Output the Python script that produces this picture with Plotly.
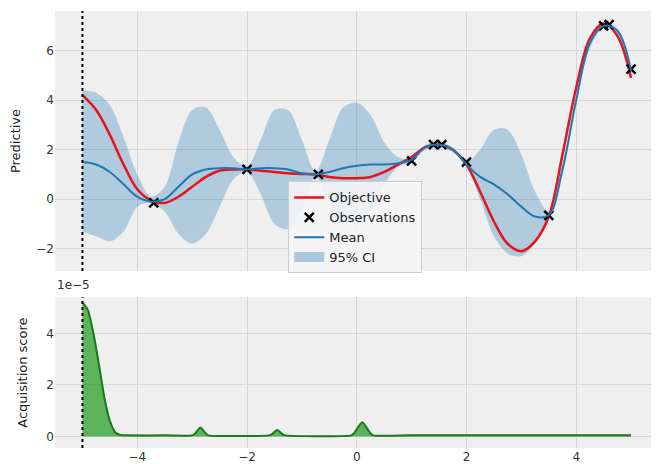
import plotly.graph_objects as go
from plotly.subplots import make_subplots

xs = [-5,-4.75,-4.5,-4.25,-4,-3.75,-3.5,-3.25,-3,-2.75,-2.5,-2.25,-2,-1.75,-1.5,-1.25,-1,-0.75,-0.5,-0.25,0,0.25,0.5,0.75,1,1.25,1.5,1.75,2,2.25,2.5,2.75,3,3.25,3.5,3.75,4,4.25,4.5,4.75,5]
objective = [4.2,3.6,2.6,1.4,0.4,-0.05,-0.15,0.1,0.5,0.9,1.15,1.2,1.2,1.15,1.1,1.05,1.02,1.0,0.9,0.85,0.85,0.9,1.1,1.4,1.7,2.1,2.2,2.0,1.4,0.3,-0.9,-1.8,-2.1,-1.7,-0.7,1.8,4.5,6.5,7.1,6.6,4.9]
mean = [1.5,1.4,1.1,0.6,0.1,-0.1,0.0,0.5,1.0,1.2,1.25,1.25,1.2,1.25,1.25,1.2,1.05,1.0,1.1,1.25,1.35,1.4,1.4,1.45,1.6,2.1,2.2,2.0,1.4,0.9,0.6,0.2,-0.3,-0.7,-0.65,1.2,4.0,6.3,7.0,6.8,5.2]
upper = [4.4,4.3,3.8,2.5,1.0,0.1,0.5,2.3,3.6,3.7,2.8,1.7,1.3,2.4,3.6,3.6,2.4,1.1,2.4,3.7,3.9,3.4,2.3,1.7,1.65,2.2,2.3,2.1,1.5,2.0,2.8,2.8,1.8,0.3,-0.5,1.4,4.2,6.5,7.15,6.9,5.3]
lower = [-1.3,-1.5,-1.7,-1.3,-0.3,-0.15,-0.5,-1.4,-1.8,-1.4,-0.3,0.8,1.1,0.2,-1.0,-1.2,-0.4,0.9,-0.1,-0.9,-0.9,-0.5,0.6,1.3,1.5,2.0,2.1,1.9,1.3,0.0,-1.5,-2.2,-2.3,-1.8,-0.8,1.0,3.8,6.1,6.9,6.7,5.1]
obs_x = [-3.7,-2,-0.7,1,1.4,1.55,2,3.5,4.5,4.6,5]
obs_y = [-0.15,1.2,1.0,1.55,2.2,2.2,1.5,-0.65,7.0,7.05,5.25]
acq_x = [-5,-4.9,-4.8,-4.7,-4.6,-4.5,-4.4,-4.3,-4.2,-3.5,-3.0,-2.95,-2.85,-2.75,-2.7,-1.6,-1.55,-1.45,-1.35,-1.3,-0.1,-0.05,0.1,0.25,0.3,1,2,3,4,5]
acq = [5.2,4.9,4.0,2.8,1.5,0.6,0.15,0.05,0.04,0.04,0.04,0.1,0.35,0.1,0.04,0.04,0.08,0.25,0.08,0.04,0.04,0.12,0.55,0.12,0.04,0.04,0.04,0.04,0.04,0.04]

fig = make_subplots(rows=2, cols=1, shared_xaxes=True, vertical_spacing=0.06)
fig.add_trace(go.Scatter(x=xs, y=upper, mode="lines", line=dict(width=0, shape="spline", smoothing=0.9), showlegend=False, hoverinfo="skip"), 1, 1)
fig.add_trace(go.Scatter(x=xs, y=lower, mode="lines", line=dict(width=0, shape="spline", smoothing=0.9), fill="tonexty", fillcolor="rgba(31,119,180,0.3)", showlegend=False), 1, 1)
fig.add_trace(go.Scatter(x=xs, y=objective, mode="lines", line=dict(color="#e8121b", width=2.5, shape="spline"), name="Objective"), 1, 1)
fig.add_trace(go.Scatter(x=obs_x, y=obs_y, mode="markers", marker=dict(symbol="x-thin", size=9, line=dict(width=2.5, color="black"), color="black"), name="Observations"), 1, 1)
fig.add_trace(go.Scatter(x=xs, y=mean, mode="lines", line=dict(color="#1f77b4", width=2, shape="spline"), name="Mean"), 1, 1)
fig.add_trace(go.Scatter(x=[None], y=[None], mode="lines", line=dict(width=10, color="rgba(31,119,180,0.35)"), name="95% CI"), 1, 1)
fig.add_trace(go.Scatter(x=acq_x, y=acq, mode="lines", line=dict(color="#1a7a1a", width=2, shape="spline", smoothing=0.6), fill="tozeroy", fillcolor="rgba(44,160,44,0.75)", showlegend=False), 2, 1)

for r in (1, 2):
    fig.add_vline(x=-5, line=dict(color="black", dash="dot", width=2), row=r, col=1)

ax = dict(showgrid=True, gridcolor="#d6d6d6", zeroline=False, showline=False, ticks="", tickfont=dict(size=12, color="#333"))
fig.update_xaxes(**ax, range=[-5.5, 5.4], tickvals=[-4,-2,0,2,4], ticktext=["−4","−2","0","2","4"])
fig.update_yaxes(**ax)
fig.update_yaxes(range=[-2.9, 7.6], tickvals=[-2,0,2,4,6], ticktext=["−2","0","2","4","6"], title=dict(text="Predictive", font=dict(size=13)), domain=[0.405, 1], row=1, col=1)
fig.update_yaxes(range=[-0.45, 5.4], tickvals=[0,2,4], title=dict(text="Acquisition score", font=dict(size=13)), domain=[0, 0.345], row=2, col=1)
fig.add_annotation(text="1e−5", xref="paper", yref="paper", x=0, y=0.352, xanchor="left", yanchor="bottom", showarrow=False, font=dict(size=12, color="#333"))
fig.update_layout(width=659, height=464, margin=dict(l=47, r=14, t=3, b=24), paper_bgcolor="white", plot_bgcolor="#efefef",
                  font=dict(family="DejaVu Sans", color="#222"),
                  legend=dict(x=0.39, y=0.61, xanchor="left", yanchor="top", traceorder="normal", bgcolor="rgba(245,245,245,0.9)", bordercolor="#ccc", borderwidth=1, font=dict(size=13)))
fig.write_html("out.html")
